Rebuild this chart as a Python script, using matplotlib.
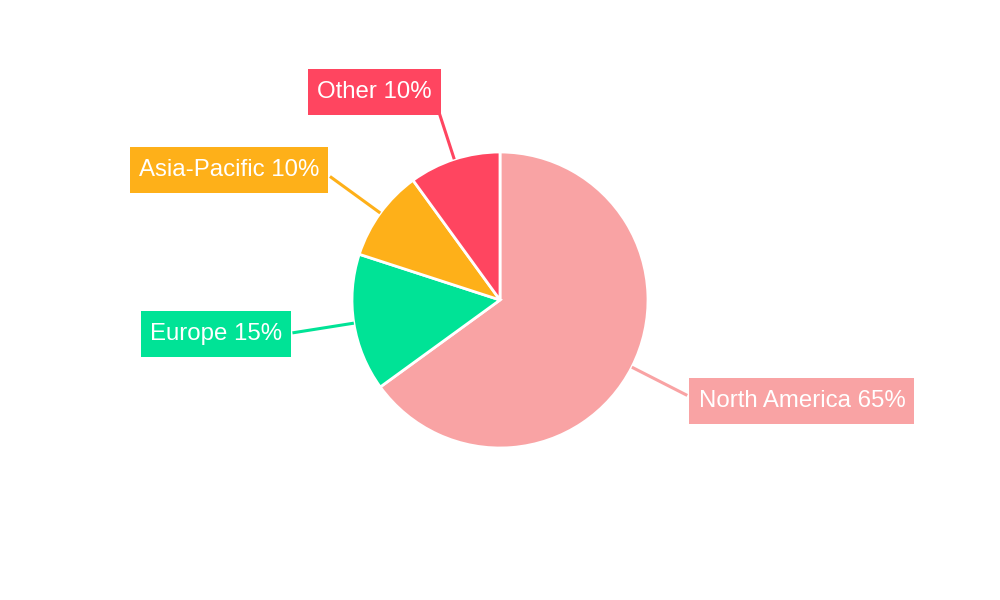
import numpy as np
import matplotlib
matplotlib.use("Agg")
import matplotlib.pyplot as plt

plt.rcParams['font.family'] = ['Liberation Sans', 'DejaVu Sans']

# Data
regions = ['North America', 'Europe', 'Asia-Pacific', 'Other']
shares = [65, 15, 10, 10]
colors = ['#F9A3A4', '#00E396', '#FEB019', '#FF4560']

# label box centres (in pie radius units) - layout only
label_pos = [(2.04, -0.68), (-1.92, -0.23), (-1.83, 0.88), (-0.85, 1.405)]

R_PX = 148  # pie radius in pixels

fig = plt.figure(figsize=(10, 6), dpi=100)
ax = fig.add_axes([0, 0, 1, 1])

wedges, _ = ax.pie(shares, colors=colors, startangle=90, counterclock=False,
                   wedgeprops=dict(edgecolor='white', linewidth=2))

for w, name, val, col, (tx, ty) in zip(wedges, regions, shares, colors, label_pos):
    ang = np.deg2rad((w.theta1 + w.theta2) / 2)
    x0, y0 = np.cos(ang), np.sin(ang)
    ax.plot([x0, 1.42 * x0], [y0, 1.42 * y0], color=col, lw=2.2,
            solid_capstyle='butt', zorder=1)
    ax.text(tx, ty, f'{name} {val}%', ha='center', va='center',
            fontsize=17.3, color='white', zorder=5,
            bbox=dict(boxstyle='square,pad=0.38', fc=col, ec='none',
                      mutation_aspect=1.3))

ax.set_xlim(-500 / R_PX, 500 / R_PX)
ax.set_ylim(-300 / R_PX, 300 / R_PX)
ax.set_aspect('auto')
ax.axis('off')

fig.savefig('out.png', dpi=100, facecolor='white')
